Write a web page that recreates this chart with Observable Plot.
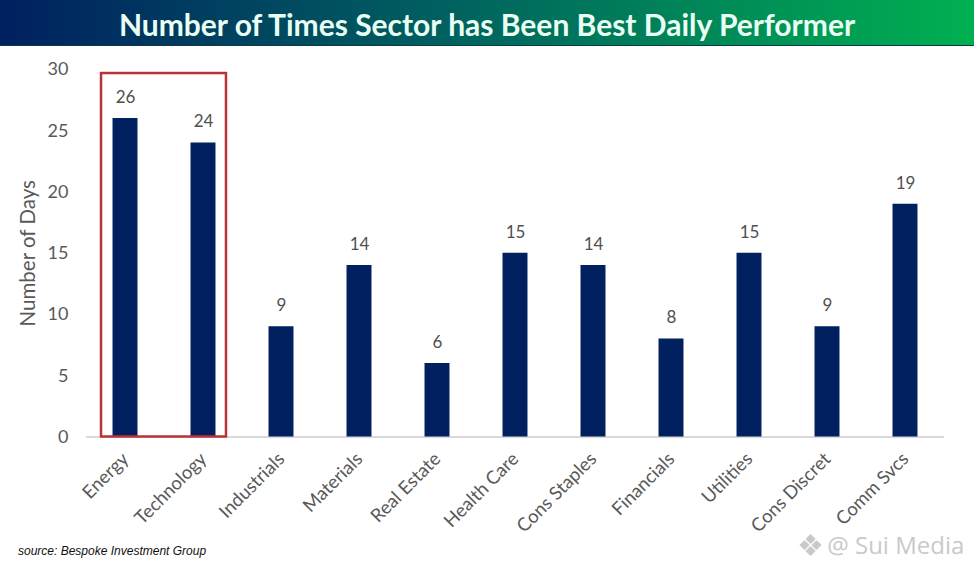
<!DOCTYPE html>
<html>
<head>
<meta charset="utf-8">
<script src="https://cdn.jsdelivr.net/npm/d3@7"></script>
<script src="https://cdn.jsdelivr.net/npm/@observablehq/plot@0.6"></script>
<style>
html,body{margin:0;padding:0;background:#fff;width:974px;height:566px;overflow:hidden;position:relative}
#head{height:46px;box-sizing:border-box;background:linear-gradient(90deg,#002060 0%,#006060 45%,#00b050 100%);color:#eafff4;font:700 30px Lato,sans-serif;text-align:center;line-height:48px;border-bottom:1px solid #0a3a48;}
#chart{position:absolute;left:0;top:46px}
#source{position:absolute;left:18px;top:544px;font:italic 12px "Liberation Sans",Arial,sans-serif;color:#111}
#mark{position:absolute;left:797px;top:524px;font:24px "Open Sans",sans-serif;color:#c9c9c9;white-space:nowrap}
#mark span{font-size:30px;vertical-align:-2px;margin-right:-3px}
</style>
</head>
<body>
<div id="head">Number of Times Sector has Been Best Daily Performer</div>
<div id="chart"></div>
<div id="source">source: Bespoke Investment Group</div>
<div id="mark"><span>❖</span> @ Sui Media</div>
<script>
const sectors = ["Energy","Technology","Industrials","Materials","Real Estate","Health Care","Cons Staples","Financials","Utilities","Cons Discret","Comm Svcs"];
const days = [26,24,9,14,6,15,14,8,15,9,19];
const yTicks = [0,5,10,15,20,25,30];
const highlighted = ["Energy","Technology"];
const boxTop = 29.67;
const rows = sectors.map((s,i)=>({sector:s,days:days[i]}));
const textColor = "#595959";

const plot = Plot.plot({
  width: 974,
  height: 495,
  marginLeft: 86,
  marginRight: 30,
  marginTop: 23,
  marginBottom: 104.5,
  style: {fontFamily: "Lato, sans-serif", background: "transparent", overflow: "visible"},
  x: {domain: sectors, paddingInner: 0.68, paddingOuter: 0.34, round: false},
  y: {domain: [0,30]},
  marks: [
    Plot.ruleY([0], {stroke: "#d9d9d9", strokeWidth: 2}),
    Plot.barY(rows, {x: "sector", y: "days", fill: "#002060"}),
    Plot.rect([{a: highlighted[0], b: highlighted[1]}], {
      x1: "a", x2: "b", y1: 0, y2: boxTop,
      fill: "none", stroke: "#b83236", strokeWidth: 2.5,
      insetLeft: -11.5, insetRight: -10.5
    }),
    Plot.text(rows, {x: "sector", y: "days", text: "days", dy: -21, fontSize: 17, fill: "#505050"}),
    Plot.axisY({ticks: yTicks, tickSize: 0, tickPadding: 18, fontSize: 18, color: textColor, label: null}),
    Plot.axisY({ticks: [], tickSize: 0, fontSize: 20.5, color: textColor,
      label: "Number of Days", labelAnchor: "center", labelArrow: "none", labelOffset: 66}),
    Plot.axisX({tickSize: 0, tickPadding: 19, tickRotate: -45, fontSize: 18.5, color: textColor, label: null})
  ]
});
document.getElementById("chart").append(plot);
</script>
</body>
</html>
